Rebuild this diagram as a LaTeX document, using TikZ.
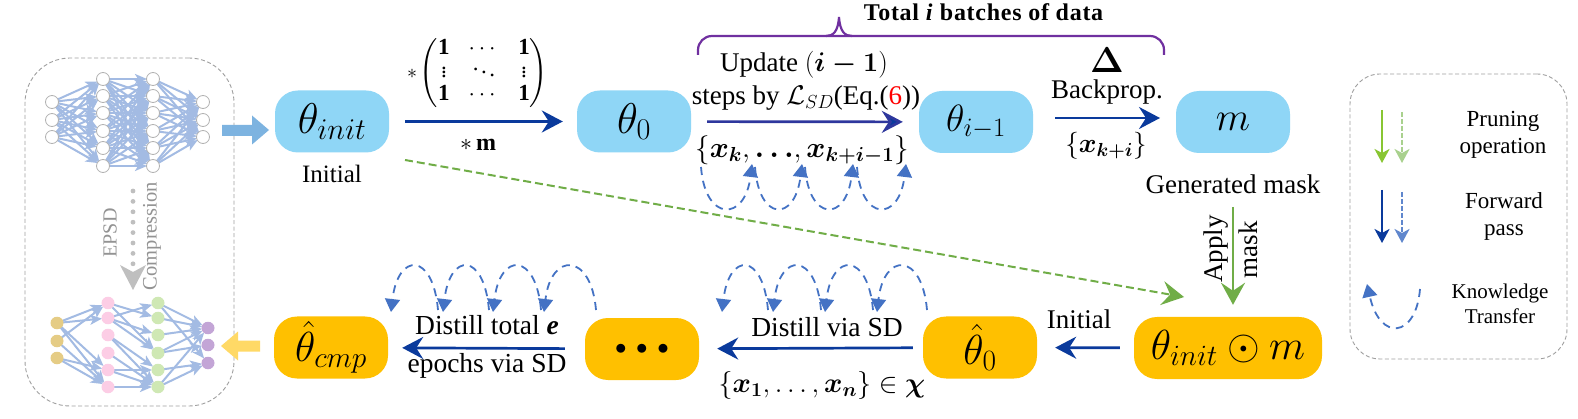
\documentclass[tikz,border=0pt]{standalone}
\usepackage{fix-cm}
\usepackage{amsmath,amssymb}
\usepackage{fontspec}
\setmainfont{Liberation Serif}
\usetikzlibrary{arrows.meta,calc,shapes.arrows,shapes.geometric}
\definecolor{nodeblue}{HTML}{8FD6F6}
\definecolor{nodeorange}{HTML}{FFC000}
\definecolor{navy}{HTML}{0A3A9C}
\definecolor{kblue}{HTML}{4472C4}
\definecolor{pgreen}{HTML}{70AD47}
\definecolor{lgreen}{HTML}{A9D18E}
\definecolor{purp}{HTML}{7030A0}
\definecolor{nnedge}{HTML}{A3BBE3}
\definecolor{dtan}{HTML}{E5CC85}
\definecolor{dpink}{HTML}{FCCDE5}
\definecolor{dgreen}{HTML}{CFE8B4}
\definecolor{dpurple}{HTML}{C3A5D6}
\definecolor{bigblue}{HTML}{7DB3E0}
\definecolor{bigyellow}{HTML}{FFD966}
\newcommand{\txt}[1]{\fontsize{#1}{#1}\selectfont}
\newcommand{\bmi}[1]{\textbf{\textit{#1}}}
\tikzset{
  x=1pt,y=-1pt,
  blk/.style={rounded corners=23pt,minimum width=114pt,minimum height=62pt,inner sep=0pt,text=black},
  bluen/.style={blk,fill=nodeblue},
  orangen/.style={blk,fill=nodeorange},
  mainarrow/.style={draw=navy,line width=2.7pt,-{Stealth[length=21pt,width=22pt,inset=7pt]}},
  garrow/.style={draw=pgreen,line width=2.7pt,-{Stealth[length=22pt,width=24pt,inset=8pt]}},
  gdash/.style={draw=pgreen,line width=2pt,dash pattern=on 8pt off 4pt,-{Stealth[length=22pt,width=24pt,inset=8pt]}},
  karc/.style={draw=kblue,line width=1.8pt,dash pattern=on 8pt off 6pt,-{Triangle[length=13pt,width=15pt,fill=kblue]}},
  greybox/.style={draw=gray!75,line width=0.9pt,dash pattern=on 4pt off 2.5pt},
  lab/.style={inner sep=0pt,text=black,font=\txt{27}},
  leglab/.style={inner sep=0pt,align=center,text=black},
  nnc/.style={circle,draw=gray!60,fill=white,line width=0.8pt,minimum width=13pt,inner sep=0pt},
  nne/.style={draw=nnedge,line width=2pt,-{Stealth[length=12pt,width=10pt,inset=3pt]}},
  nnd/.style={ellipse,minimum width=13pt,minimum height=12.5pt,inner sep=0pt},
  legarrow/.style={line width=2pt,-{Stealth[length=14pt,width=15pt,inset=4pt]}},
}
\begin{document}
\begin{tikzpicture}
\useasboundingbox (0,0) rectangle (1578,419);
\fill[white] (0,0) rectangle (1578,419);

% boxes
\node[greybox,rounded corners=45pt,minimum width=209pt,minimum height=348pt,inner sep=0pt] (lbox) at (129.5,232) {};
\node[greybox,rounded corners=30pt,minimum width=217pt,minimum height=285pt,inner sep=0pt] (rbox) at (1458.5,216.5) {};

% top network
\foreach \i/\y in {1/102,2/120,3/137}{\coordinate (aa\i) at (52,\y); \coordinate (ad\i) at (203,\y);}
\foreach \i/\y in {1/79,2/96,3/113,4/131,5/148,6/166}{\coordinate (ab\i) at (103,\y); \coordinate (ac\i) at (153,\y);}
\foreach \i in {1,2,3}\foreach \j in {1,...,6}{
  \draw[nne,shorten <=5pt,shorten >=6pt] (aa\i) -- (ab\j);
  \draw[nne,shorten <=5pt,shorten >=6pt] (ac\j) -- (ad\i);}
\foreach \i in {1,...,6}\foreach \j in {1,...,6}{
  \draw[nne,shorten <=5pt,shorten >=6pt] (ab\i) -- (ac\j);}
\foreach \i in {1,2,3}{\node[nnc] at (aa\i) {}; \node[nnc] at (ad\i) {};}
\foreach \i in {1,...,6}{\node[nnc] at (ab\i) {}; \node[nnc] at (ac\i) {};}

% bottom network
\foreach \i/\y in {1/323,2/341,3/358}{\coordinate (ba\i) at (57,\y);}
\foreach \i/\y in {1/328,2/345,3/363}{\coordinate (bd\i) at (208,\y);}
\foreach \i/\y in {1/303,2/318,3/335,4/353,5/370,6/387}{\coordinate (bb\i) at (108,\y); \coordinate (bc\i) at (158,\y);}
\foreach \a/\b in {1/1,1/2,1/5,1/6,2/1,2/6,3/5,3/6}{\draw[nne,shorten <=6pt,shorten >=6pt] (ba\a) -- (bb\b);}
\foreach \a/\b in {1/2,1/4,2/1,2/3,2/4,3/5,3/6,4/6,5/5,5/6,6/6}{\draw[nne,shorten <=6pt,shorten >=6pt] (bb\a) -- (bc\b);}
\foreach \a/\b in {1/1,1/3,2/1,3/1,4/2,5/3,6/1,6/3,4/1}{\draw[nne,shorten <=6pt,shorten >=6pt] (bc\a) -- (bd\b);}
\foreach \i in {1,2,3}{\node[nnd,fill=dtan] at (ba\i) {}; \node[nnd,fill=dpurple] at (bd\i) {};}
\foreach \i in {1,...,6}{\node[nnd,fill=dpink] at (bb\i) {}; \node[nnd,fill=dgreen] at (bc\i) {};}

% compression
\foreach \k in {0,...,7}{\fill[gray!50] (133,191+10.4*\k) circle (2.4);}
\fill[gray!50] (120,265) -- (133,272) -- (146,265) -- (133,290) -- cycle;
\node[rotate=90,inner sep=0pt,text=gray!85,font=\txt{20}] (epsd) at (110,233) {EPSD};
\node[rotate=90,inner sep=0pt,text=gray!85,font=\txt{20.5}] (compr) at (152,236) {Compression};

% nodes
\node[bluen] (tinit) at (332,121.5) {\txt{43}$\theta_{init}$};
\node[bluen] (t0) at (634,121.5) {\txt{43}$\theta_0$};
\node[bluen] (tim) at (976,122) {\txt{38}$\theta_{i-1}$};
\node[bluen] (m) at (1233,122) {\txt{40}$m$};
\node[orangen,minimum width=188pt] (tm) at (1228,348) {\txt{42}$\theta_{init}\odot m$};
\node[orangen] (h0) at (980,347.5) {\txt{42}$\hat{\theta}_0$};
\node[orangen] (hd) at (642,349) {\txt{23}$\bullet\hspace{4.5pt}\bullet\hspace{4.5pt}\bullet$};
\node[orangen] (hc) at (331,347.5) {\txt{42}$\hat{\theta}_{cmp}$};

% big arrows
\fill[bigblue] (222,125) -- (252,125) -- (252,115.5) -- (269,130) -- (252,144.5) -- (252,136) -- (222,136) -- cycle;
\fill[bigyellow] (260,340.5) -- (238,340.5) -- (238,331.5) -- (221,346) -- (238,360.5) -- (238,351.5) -- (260,351.5) -- cycle;

% main connectors
\draw[mainarrow,shorten <=16pt,shorten >=14pt] (tinit) -- (t0);
\draw[draw=navy!65!purp,line width=2.7pt,-{Stealth[length=21pt,width=22pt,inset=7pt,fill=navy]},shorten <=16pt,shorten >=16pt] (t0) -- (tim);
\coordinate (bpA) at (1055,118); \coordinate (bpB) at (1160,118);
\draw[mainarrow] (bpA) -- (bpB);
\draw[mainarrow,shorten <=14pt,shorten >=18pt] (tm) -- (h0);
\draw[mainarrow,shorten <=10pt,shorten >=18pt] (h0) -- (hd);
\draw[mainarrow,shorten <=20pt,shorten >=14pt] (hd) -- (hc);
\coordinate (gA) at (1233,207);
\draw[garrow,shorten >=12pt] (gA) -- (tm.north -| gA);
\coordinate (gS) at (405,160); \coordinate (gE) at (1184,297);
\draw[gdash] (gS) -- (gE);

% top knowledge arcs
\foreach \a/\b/\n in {701/752/1,755/802/2,805/853/3,857/906/4}{
  \coordinate (ks\n) at (\a,167); \coordinate (ke\n) at (\b,164);
  \draw[karc] (ks\n) .. controls (\a+4,222) and (\b-7,222) .. (ke\n);
}
% bottom knowledge arcs
\foreach \a/\b/\n in {927/877/1,873/825/2,821/773/3,768/722/4,596/544/5,541/493/6,489/443/7,438/391/8}{
  \coordinate (ls\n) at (\a,310); \coordinate (le\n) at (\b,312);
  \draw[karc] (ls\n) .. controls (\a-5,252) and (\b+7,252) .. (le\n);
}

% purple bracket
\coordinate (brA) at (698,55); \coordinate (brB) at (1164,55);
\draw[purp,line width=2.2pt,rounded corners=14pt] (brA) -- (698,36) -- (1164,36) -- (brB);
\draw[purp,line width=2.2pt] (826,36) .. controls (833,36) and (838,32) .. (839,17) .. controls (840,32) and (845,36) .. (852,36);

% labels
\node[inner sep=0pt,font=\txt{24}\bfseries\addfontfeature{LetterSpace=3}] (total) at (983.5,12) {Total \textit{i} batches of data};
\node[lab] (init1) at (332,174) {\txt{25}Initial};
\node[inner sep=0pt] (mat) at (484,73) {\txt{23}\setlength{\arraycolsep}{9.5pt}$\begin{pmatrix}\mathbf{1}&\cdots&\mathbf{1}\\ \vdots&\ddots&\vdots\\ \mathbf{1}&\cdots&\mathbf{1}\end{pmatrix}$};
\node[inner sep=0pt] (mstar) at (412,74) {\txt{20}$*$};
\node[inner sep=0pt] (mm) at (478,145) {\txt{24}$*\,\mathbf{m}$};
\node[lab] (upd) at (804,65) {Update $(\boldsymbol{i-1})$};
\node[lab] (steps) at (806,98) {steps by $\mathcal{L}_{SD}$(Eq.(\textcolor{red}{6}))};
\node[lab] (xk) at (802,150) {\txt{29}$\{\boldsymbol{x_k},\boldsymbol{\ldots},\boldsymbol{x_{k+i-1}}\}$};
\node[inner sep=0pt] (delta) at (1107,60) {\txt{36}$\boldsymbol{\Delta}$};
\node[lab] (bp) at (1107,92) {Backprop.};
\node[lab] (xki) at (1106,146) {\txt{27}$\{\boldsymbol{x_{k+i}}\}$};
\node[lab] (gm) at (1233,184) {Generated mask};
\node[lab,rotate=90] (ap) at (1216,249) {Apply};
\node[lab,rotate=90] (ma) at (1248,250) {mask};
\node[lab] (init2) at (1079,319) {Initial};
\node[lab] (dv) at (827,327) {\txt{27.5}Distill via SD};
\node[lab] (xs) at (822,385) {\txt{28}$\{\boldsymbol{x_1},\ldots,\boldsymbol{x_n}\}\in\boldsymbol{\chi}$};
\node[lab] (dt) at (487,325) {\txt{27.5}Distill total \bmi{e}};
\node[lab] (ev) at (487,366) {\txt{27.5}epochs via SD};

% legend
\coordinate (l1a) at (1382,110); \coordinate (l1b) at (1382,163);
\coordinate (l2a) at (1402,112); \coordinate (l2b) at (1402,163);
\coordinate (l3a) at (1382,190); \coordinate (l3b) at (1382,243);
\coordinate (l4a) at (1402,192); \coordinate (l4b) at (1402,243);
\coordinate (l5a) at (1420,289); \coordinate (l5b) at (1367,284);
\draw[legarrow,draw=pgreen!70!lime] (l1a) -- (l1b);
\draw[legarrow,draw=lgreen,dash pattern=on 5pt off 2pt] (l2a) -- (l2b);
\draw[legarrow,draw=navy] (l3a) -- (l3b);
\draw[legarrow,draw=kblue!85,dash pattern=on 5pt off 2pt] (l4a) -- (l4b);
\draw[karc] (l5a) .. controls (1416,338) and (1380,342) .. (l5b);
\node[leglab,font=\txt{23}] (pr) at (1503,135) {Pruning\\[4pt]operation};
\node[leglab,font=\txt{23}] (fw) at (1504,216) {Forward\\[4pt]pass};
\node[leglab,font=\txt{21}] (kn) at (1500,304) {Knowledge\\[4pt]Transfer};
\end{tikzpicture}
\end{document}
